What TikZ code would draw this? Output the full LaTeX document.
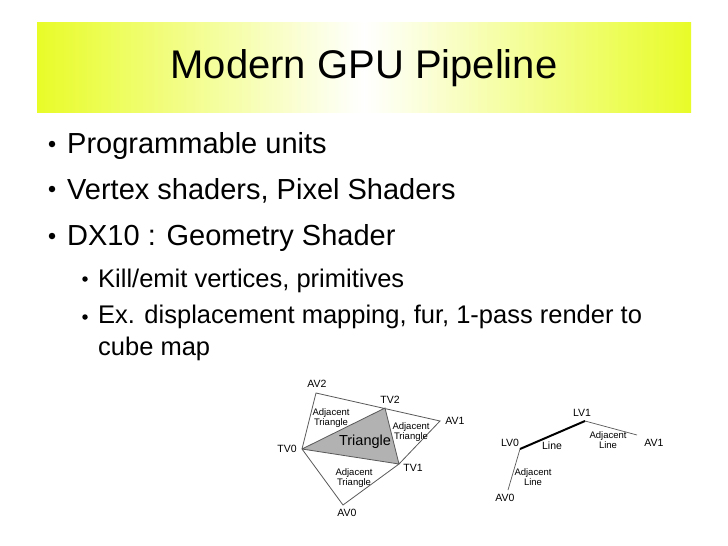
\documentclass[tikz,border=0pt]{standalone}
\usepackage{fontspec}
\setmainfont{Liberation Sans}
\begin{document}
\begin{tikzpicture}[x=1pt,y=-1pt,
  sm/.style={font=\fontsize{9.5}{10.5}\selectfont,align=center,inner sep=0pt},
  vl/.style={font=\fontsize{10.5}{12}\selectfont,inner sep=0pt},
  b1/.style={anchor=west,font=\fontsize{29}{34}\selectfont,inner sep=0pt},
  b2/.style={anchor=west,font=\fontsize{25.5}{32}\selectfont,inner sep=0pt,align=left},
  dot/.style={circle,fill=black,inner sep=0pt}]
\useasboundingbox (0,0) rectangle (728,546);
\fill[white] (0,0) rectangle (728,546);
\definecolor{ban}{RGB}{232,252,40}
\shade[left color=ban, right color=white] (37,22) rectangle (364,112);
\shade[left color=white, right color=ban] (364,22) rectangle (691,112);
\node (title) [font=\fontsize{40}{46}\selectfont] at (364,68) {Modern GPU Pipeline};
\node (d1) [dot,minimum size=6.5pt] at (52,144) {};
\node (t1) [b1] at (67,146) {Programmable units};
\node (d2) [dot,minimum size=6.5pt] at (52,189) {};
\node (t2) [b1] at (67,191) {Vertex shaders, Pixel Shaders};
\node (d3) [dot,minimum size=6.5pt] at (52,236) {};
\node (t3) [b1] at (67,238) {DX10 : Geometry Shader};
\node (d4) [dot,minimum size=5.5pt] at (85,279) {};
\node (t4) [b2] at (98,281) {Kill/emit vertices, primitives};
\node (d5) [dot,minimum size=5.5pt] at (85,317) {};
\node (t5) [b2,anchor=north west] at (98,305) {Ex. displacement mapping, fur, 1-pass render to\\cube map};
% triangle diagram
\coordinate (AV2) at (316,393);
\coordinate (TV2) at (385,408);
\coordinate (AV1) at (440,421);
\coordinate (TV0) at (302,449);
\coordinate (TV1) at (399,464);
\coordinate (AV0) at (343,505);
\fill[gray!60] (TV0) -- (TV2) -- (TV1) -- cycle;
\draw[gray!70!black,line width=0.8pt] (TV0) -- (AV2) -- (AV1) -- (TV1) -- (AV0) -- (TV0) -- (TV2) -- (TV1) -- cycle;
\node (lAV2) [vl] at (317,384) {AV2};
\node (lTV2) [vl] at (390,400) {TV2};
\node (lAV1) [vl] at (455,421) {AV1};
\node (lTV0) [vl] at (287,449) {TV0};
\node (lTV1) [vl] at (413,468) {TV1};
\node (lAV0) [vl] at (347,513) {AV0};
\node (tri) [sm,font=\fontsize{14.5}{16}\selectfont] at (365,442) {Triangle};
\node (at1) [sm] at (331,418) {Adjacent\\Triangle};
\node (at2) [sm] at (411,432) {Adjacent\\Triangle};
\node (at3) [sm] at (354,478) {Adjacent\\Triangle};
% line diagram
\coordinate (LV0) at (520,449);
\coordinate (LV1) at (585,421);
\coordinate (LA1) at (637,435);
\coordinate (LA0) at (508,490);
\draw[gray!70!black,line width=0.7pt] (LA0) -- (LV0);
\draw[gray!70!black,line width=0.7pt] (LV1) -- (LA1);
\draw[black,line width=2pt] (LV0) -- (LV1);
\node (lLV1) [vl] at (582,413) {LV1};
\node (lLV0) [vl] at (510,443) {LV0};
\node (lLA1) [vl] at (654,443) {AV1};
\node (lLA0) [vl] at (505,498) {AV0};
\node (ln) [vl] at (552,446) {Line};
\node (al1) [sm] at (608,440) {Adjacent\\Line};
\node (al2) [sm] at (533,477) {Adjacent\\Line};
\end{tikzpicture}
\end{document}
